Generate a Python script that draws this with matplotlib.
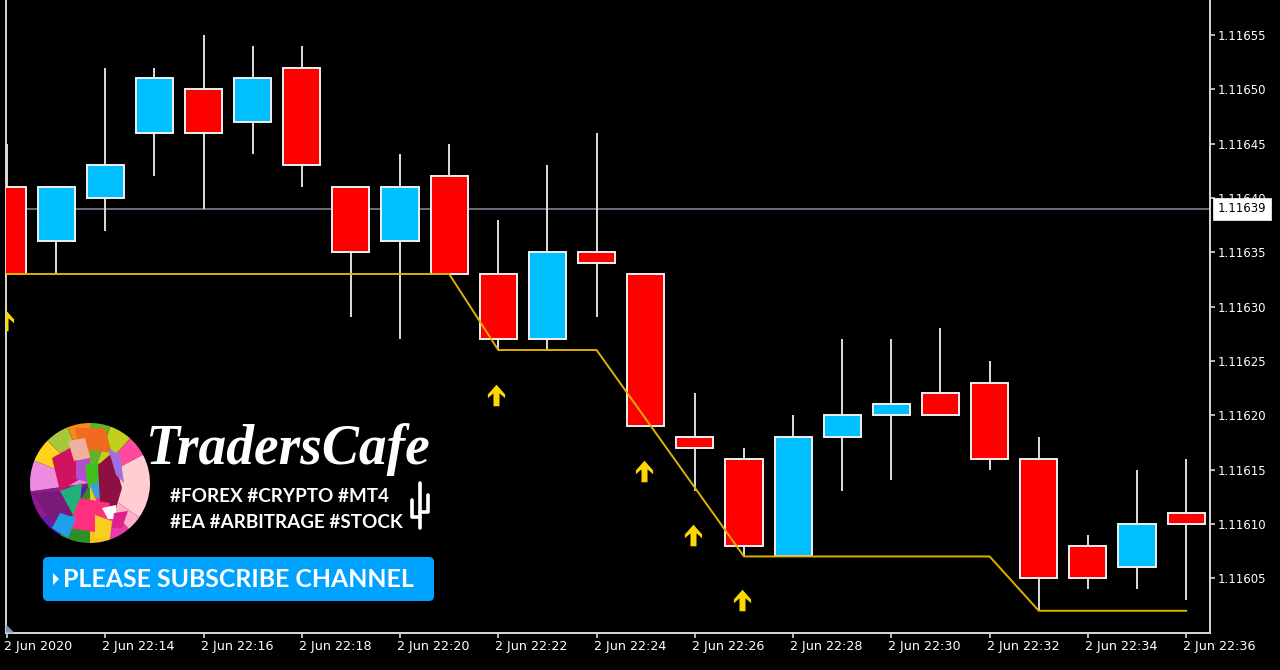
#! /usr/bin/python3
# -*- coding: utf-8 -*-

import numpy as np
from matplotlib import pyplot as plt
from matplotlib.patches import Circle, FancyBboxPatch, Polygon, Wedge
from matplotlib.path import Path
from matplotlib.transforms import ScaledTranslation

# candles, one per minute starting 22:12
opens = [1.11641, 1.11636, 1.11640, 1.11646, 1.11650, 1.11647, 1.11652, 1.11641, 1.11636,
         1.11642, 1.11633, 1.11627, 1.11635, 1.11633, 1.11618, 1.11616, 1.11607, 1.11618,
         1.11620, 1.11622, 1.11623, 1.11616, 1.11608, 1.11606, 1.11611]
closes = [1.11633, 1.11641, 1.11643, 1.11651, 1.11646, 1.11651, 1.11643, 1.11635, 1.11641,
          1.11633, 1.11627, 1.11635, 1.11634, 1.11619, 1.11617, 1.11608, 1.11618, 1.11620,
          1.11621, 1.11620, 1.11616, 1.11605, 1.11605, 1.11610, 1.11610]
highs = [1.11645, 1.11641, 1.11652, 1.11652, 1.11655, 1.11654, 1.11654, 1.11641, 1.11644,
         1.11645, 1.11638, 1.11643, 1.11646, 1.11633, 1.11622, 1.11617, 1.11620, 1.11627,
         1.11627, 1.11628, 1.11625, 1.11618, 1.11609, 1.11615, 1.11616]
lows = [1.11633, 1.11633, 1.11637, 1.11642, 1.11639, 1.11644, 1.11641, 1.11629, 1.11627,
        1.11633, 1.11626, 1.11626, 1.11629, 1.11619, 1.11613, 1.11607, 1.11607, 1.11613,
        1.11614, 1.11620, 1.11615, 1.11602, 1.11604, 1.11604, 1.11603]

# yellow trailing line
stop_idx = [0, 9, 10, 12, 15, 20, 21, 24]
stop_val = [1.11633, 1.11633, 1.11626, 1.11626, 1.11607, 1.11607, 1.11602, 1.11602]

# yellow arrows
arrow_idx = [0, 10, 13, 14, 15]
arrow_val = [1.116288, 1.116219, 1.116149, 1.11609, 1.11603]

current_price = 1.11639
y_ticks = [1.11605, 1.11610, 1.11615, 1.11620, 1.11625, 1.11630, 1.11635, 1.11640,
           1.11645, 1.11650, 1.11655]
x_ticks = [0, 2, 4, 6, 8, 10, 12, 14, 16, 18, 20, 22, 24]
x_labels = ['2 Jun 2020', '2 Jun 22:14', '2 Jun 22:16', '2 Jun 22:18', '2 Jun 22:20',
            '2 Jun 22:22', '2 Jun 22:24', '2 Jun 22:26', '2 Jun 22:28', '2 Jun 22:30',
            '2 Jun 22:32', '2 Jun 22:34', '2 Jun 22:36']

AXIS_COL = '#d8d8d8'
NARROW = 'Lato'

# logo ring, clockwise from 12 o'clock
ring = [(0, 20, '#5fb52a'), (20, 42, '#c3cf1d'), (42, 62, '#ff4a9e'), (62, 125, '#ffcdd2'),
        (125, 140, '#ffb0c8'), (140, 160, '#e83aa8'), (160, 180, '#f5c518'), (180, 210, '#2e8f2a'),
        (210, 232, '#5a1db5'), (232, 262, '#8c1a90'), (262, 292, '#f08ae0'), (292, 315, '#ffd21f'),
        (315, 338, '#a6c83a'), (338, 360, '#f28a1c')]
# logo inner patches, offsets from the circle centre
patches = [('#d1125e', [(-38, -25), (-15, -38), (-8, -5), (-30, 8)]),
           ('#7a1a78', [(-58, 10), (-30, 8), (-15, 30), (-35, 45)]),
           ('#22b07a', [(-30, 8), (-8, 0), (-12, 40), (-18, 30)]),
           ('#f06a20', [(-15, -55), (15, -55), (22, -30), (-12, -35)]),
           ('#f0b0a0', [(-22, -42), (-5, -45), (0, -25), (-16, -22)]),
           ('#b04fd0', [(-14, -22), (0, -25), (0, 0), (-14, -4)]),
           ('#3fc01f', [(-5, -18), (10, -20), (14, -2), (-2, 5)]),
           ('#3a9fe0', [(0, 2), (22, -5), (25, 15), (5, 15)]),
           ('#8e1042', [(8, -18), (22, -30), (32, 5), (26, 25), (10, 20)]),
           ('#a070e0', [(18, -35), (30, -28), (34, 0), (26, -8)]),
           ('#ff2f7f', [(-10, 15), (20, 20), (12, 50), (-22, 45)]),
           ('#ffffff', [(12, 25), (26, 22), (26, 36), (18, 36)]),
           ('#f5d020', [(5, 32), (22, 38), (20, 55), (5, 55)]),
           ('#1fa0e8', [(-30, 30), (-14, 35), (-22, 55), (-38, 45)]),
           ('#e0208c', [(24, 30), (38, 28), (32, 45), (22, 45)])]


def draw_chart(ax):
    x = np.arange(len(opens))
    o, c = np.array(opens), np.array(closes)
    colors = ['#00bfff' if cl > op else '#ff0000' for op, cl in zip(o, c)]

    ax.axhline(current_price, color='#7f8fa3', lw=1.1, zorder=1)
    ax.vlines(x, lows, highs, color='#dcdcdc', lw=1.4, zorder=2)
    ax.bar(x, np.abs(c - o), bottom=np.minimum(o, c), width=0.755, color=colors,
           edgecolor='#f0f0f0', linewidth=1.4, zorder=3)
    ax.plot(stop_idx, stop_val, color='#e0b000', lw=1.4, zorder=4)

    arrow = Path([(0, 1), (0.8, 0.1), (0.8, -0.25), (0.28, 0.2), (0.28, -1), (-0.28, -1),
                  (-0.28, 0.2), (-0.8, -0.25), (-0.8, 0.1), (0, 1)])
    ax.plot(np.array(arrow_idx) - 0.04, arrow_val, ls='none', marker=arrow, ms=15.5,
            mfc='#ffd700', mec='none', zorder=5)

    ax.set_xlim(-0.03, 24.475)
    ax.set_ylim(1.11600, 1.1165822)
    ax.set_facecolor('black')
    ax.spines['top'].set_visible(False)
    for s in ax.spines.values():
        s.set_color(AXIS_COL)
        s.set_linewidth(1.4)

    ax.yaxis.tick_right()
    ax.set_yticks(y_ticks)
    ax.set_yticklabels(['%.5f' % v for v in y_ticks])
    ax.set_xticks(x_ticks)
    ax.set_xticklabels(x_labels, ha='left')
    ax.tick_params(axis='both', colors='white', color=AXIS_COL, length=3.5, width=1.2,
                   labelsize=8.5)
    ax.tick_params(axis='x', pad=2, labelsize=9.2)
    ax.tick_params(axis='y', pad=2.5)
    # labels start just left of their tick
    shift = ScaledTranslation(-3 / 100, 0, ax.figure.dpi_scale_trans)
    for lab in ax.get_xticklabels():
        lab.set_transform(lab.get_transform() + shift)

    # current price flag over the tick labels
    ax.annotate('%.5f' % current_price, xy=(1, current_price), xycoords=('axes fraction', 'data'),
                xytext=(8, 0), textcoords='offset pixels', ha='left', va='center', color='black',
                fontsize=8.5, zorder=10, annotation_clip=False,
                bbox=dict(boxstyle='square,pad=0.4', fc='white', ec='white', lw=0.5))
    # chart shift marker in the corner
    ax.add_patch(Polygon([(0, 0), (0.0072, 0), (0, 0.0135)], closed=True, transform=ax.transAxes,
                         fc='#7f93b5', ec='none', zorder=6))


def draw_logo(ov):
    cx, cy, r = 90, 483, 60
    clip = Circle((cx, cy), r, transform=ov.transData)
    for t1, t2, col in ring:
        # inverted y: angles run clockwise on screen, 0 is 3 o'clock
        ov.add_patch(Wedge((cx, cy), r, t1 - 90, t2 - 90, fc=col, ec='none'))
    for col, pts in patches:
        p = Polygon([(cx + a, cy + b) for a, b in pts], closed=True, fc=col, ec='none')
        ov.add_patch(p)
        p.set_clip_path(clip)

    ov.text(146, 449, 'TradersCafe', color='white', fontsize=40, family='Liberation Serif',
            style='italic', weight='bold', va='center', ha='left')
    ov.text(170, 496, '#FOREX #CRYPTO #MT4', color='white', fontsize=13.6, family=NARROW,
            weight='bold', va='center', ha='left')
    ov.text(170, 522, '#EA #ARBITRAGE #STOCK', color='white', fontsize=13.6, family=NARROW,
            weight='bold', va='center', ha='left')

    # cactus
    kw = dict(color='white', lw=2.6, solid_capstyle='round', solid_joinstyle='round')
    ov.plot([419.5, 419.5], [483, 528], **kw)
    ov.plot([412, 412, 419.5], [500, 517, 517], **kw)
    ov.plot([428, 428, 419.5], [495, 512, 512], **kw)

    # subscribe banner
    ov.add_patch(FancyBboxPatch((47, 561), 383, 36, boxstyle='round,pad=4,rounding_size=5',
                                fc='#00a2ff', ec='none'))
    ov.add_patch(Polygon([(53, 573), (59, 579), (53, 585)], closed=True, fc='white', ec='none'))
    ov.text(63, 579.5, 'PLEASE SUBSCRIBE CHANNEL', color='white', fontsize=17.9, family=NARROW,
            weight='bold', va='center', ha='left')


def main():
    fig = plt.figure(figsize=(12.8, 6.7), dpi=100, facecolor='black')
    ax = fig.add_axes([5.5 / 1280, 37.5 / 670, 1204 / 1280, 632.5 / 670])
    draw_chart(ax)

    ov = fig.add_axes([0, 0, 1, 1], facecolor='none')
    ov.set_xlim(0, 1280)
    ov.set_ylim(670, 0)
    ov.axis('off')
    draw_logo(ov)

    fig.savefig('out.png', dpi=100, facecolor='black')


if __name__ == "__main__":
    main()
